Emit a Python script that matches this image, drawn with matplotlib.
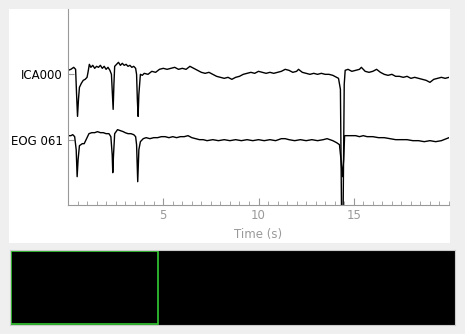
import matplotlib
matplotlib.use('Agg')
import matplotlib.pyplot as plt
from matplotlib.patches import Rectangle
import numpy as np

############ data (amplitude in arbitrary units) ############
ch_names = ['ICA000', 'EOG 061']

ica_t = [0.0, 0.15, 0.3, 0.4, 0.45, 0.5, 0.55, 0.6, 0.7, 0.8, 0.9, 1.0, 1.05, 1.12, 1.2, 1.3,
         1.4, 1.5, 1.6, 1.7, 1.8, 1.9, 2.0, 2.1, 2.2, 2.28, 2.33, 2.37, 2.41, 2.45, 2.55, 2.65,
         2.75, 2.85, 2.95, 3.05, 3.15, 3.25, 3.35, 3.45, 3.55, 3.6, 3.64, 3.68, 3.72, 3.8, 3.9,
         4.0, 4.2, 4.4, 4.6, 4.8, 5.0, 5.2, 5.4, 5.6, 5.8, 6.0, 6.2, 6.4, 6.6, 6.8, 7.0, 7.2,
         7.4, 7.6, 7.8, 8.0, 8.2, 8.4, 8.6, 8.8, 9.0, 9.2, 9.4, 9.6, 9.8, 10.0, 10.2, 10.4,
         10.6, 10.8, 11.0, 11.2, 11.4, 11.6, 11.8, 12.0, 12.1, 12.3, 12.5, 12.7, 12.9, 13.1,
         13.3, 13.5, 13.7, 13.9, 14.1, 14.2, 14.3, 14.36, 14.44, 14.5, 14.55, 14.7, 14.9, 15.1,
         15.3, 15.4, 15.6, 15.8, 16.0, 16.2, 16.4, 16.6, 16.8, 17.0, 17.2, 17.4, 17.6, 17.8,
         18.0, 18.2, 18.4, 18.6, 18.8, 19.0, 19.2, 19.4, 19.6, 19.8, 20.0]
ica_v = [4, 5, 7, 5, -20, -42, -25, -13, -9, -6, -5, -3, 2, 10, 7, 9,
         6, 8, 7, 9, 6, 8, 5, 7, 4, 0, -20, -35, -10, 8, 10, 12,
         9, 11, 9, 10, 8, 9, 7, 8, 6, 0, -25, -42, -20, 0, -1,
         1, 0, 3, 2, 5, 6, 5, 6, 7, 5, 6, 5, 8, 6, 4, 2, 1,
         2, 0, -2, -3, -4, -3, -5, -3, -2, 0, 1, 2, 1, 3, 2, 1,
         2, 1, 2, 3, 5, 4, 2, 3, 5, 2, 1, 0, 1, 0,
         1, 0, 0, -1, -3, -4, -15, -140, -140, -10, 4, 5, 3, 4,
         5, 7, 3, 2, 3, 5, 2, 0, -1, 0, -2, -2, -3, -2,
         -4, -3, -4, -5, -6, -8, -5, -4, -3, -4, -3]

eog_t = [0.0, 0.15, 0.25, 0.35, 0.43, 0.48, 0.53, 0.6, 0.75, 0.85, 0.95, 1.1, 1.25, 1.4, 1.55,
         1.7, 1.85, 2.0, 2.15, 2.25, 2.32, 2.35, 2.39, 2.45, 2.6, 2.75, 2.9, 3.0, 3.15, 3.3,
         3.45, 3.55, 3.6, 3.66, 3.72, 3.8, 3.95, 4.1, 4.3, 4.5, 4.7, 4.9, 5.1, 5.3, 5.5, 5.7,
         5.9, 6.1, 6.3, 6.5, 6.7, 6.9, 7.1, 7.3, 7.6, 7.9, 8.2, 8.5, 8.8, 9.1, 9.4, 9.7, 10.0,
         10.3, 10.6, 10.9, 11.2, 11.4, 11.6, 11.9, 12.2, 12.5, 12.8, 13.1, 13.4, 13.6, 13.9,
         14.1, 14.25, 14.33, 14.4, 14.47, 14.52, 14.7, 14.9, 15.1, 15.3, 15.5, 15.7, 16.0,
         16.3, 16.6, 16.9, 17.2, 17.5, 17.8, 18.1, 18.4, 18.7, 19.0, 19.3, 19.6, 20.0]
eog_v = [4, 4, 5, 3, -10, -37, -20, -6, -4, -4, 0, 6, 7, 7, 8,
         7, 7, 6, 6, 3, -15, -33, -15, 6, 10, 9, 8, 7, 6, 6,
         5, 3, -5, -42, -10, -2, 1, 2, 1, 2, 2, 3, 3, 2, 3, 2,
         3, 3, 4, 2, 1, 0, 0, -1, 0, -1, 0, -1, 0, -1, 0, -1, 0,
         -1, 0, -1, 1, 1, 0, -1, 0, -1, 0, -1, 0, 1, -1,
         -3, -5, -20, -37, -20, 4, 4, 4, 4, 3, 4, 3, 3,
         2, 2, 1, 0, 0, 0, -1, -1, -2, -1, -2, -1, 2]

duration = 20.0
total_time = 60.0
px_per_unit = 65.3   # trace amplitude units per channel spacing

############ figure ##############
fig = plt.figure(figsize=(4.65, 3.34), dpi=100, facecolor='#efefef')
bg = Rectangle((9 / 465, 1 - 243 / 334), 441 / 465, 234 / 334,
               transform=fig.transFigure, facecolor='white', edgecolor='none', zorder=-10)
fig.add_artist(bg)

ax = fig.add_axes([68 / 465, 1 - 205 / 334, 381 / 465, 196 / 334])
ax.set_facecolor('white')
for i, (t, v) in enumerate([(ica_t, ica_v), (eog_t, eog_v)]):
    ax.plot(t, (i + 1) - np.array(v) / px_per_unit, color='k', lw=1.0)

ax.set_xlim(0, duration)
ax.set_ylim(3, 0)
ax.set_yticks([1, 2])
ax.set_yticklabels(ch_names, fontsize=8.5, color='k')
ax.set_xticks([5, 10, 15])
ax.set_xticks(np.arange(0, duration + 0.01, 0.5), minor=True)
ax.tick_params(axis='x', which='major', direction='in', length=5, colors='#999999',
               labelsize=8.5, pad=3)
ax.tick_params(axis='x', which='minor', direction='in', length=3, color='#999999')
ax.tick_params(axis='y', direction='in', length=4, color='#999999', pad=4)
ax.set_xlabel('Time (s)', fontsize=8.5, color='#999999', labelpad=4)
for s in ['top', 'right']:
    ax.spines[s].set_visible(False)
for s in ['left', 'bottom']:
    ax.spines[s].set_color('#999999')

# scroll bar
ax2 = fig.add_axes([10 / 465, 1 - 324.5 / 334, 445 / 465, 74.5 / 334])
ax2.set_facecolor('k')
ax2.set_xlim(0, total_time)
ax2.set_ylim(0, 1)
ax2.add_patch(Rectangle((0.1, 0.01), duration - 0.1, 0.98, facecolor='none',
                        edgecolor='#33cc33', lw=1.2, clip_on=False))
ax2.set_xticks([])
ax2.set_yticks([])
for s in ax2.spines.values():
    s.set_color('#cccccc')

plt.savefig('out.png', dpi=100, facecolor=fig.get_facecolor())
